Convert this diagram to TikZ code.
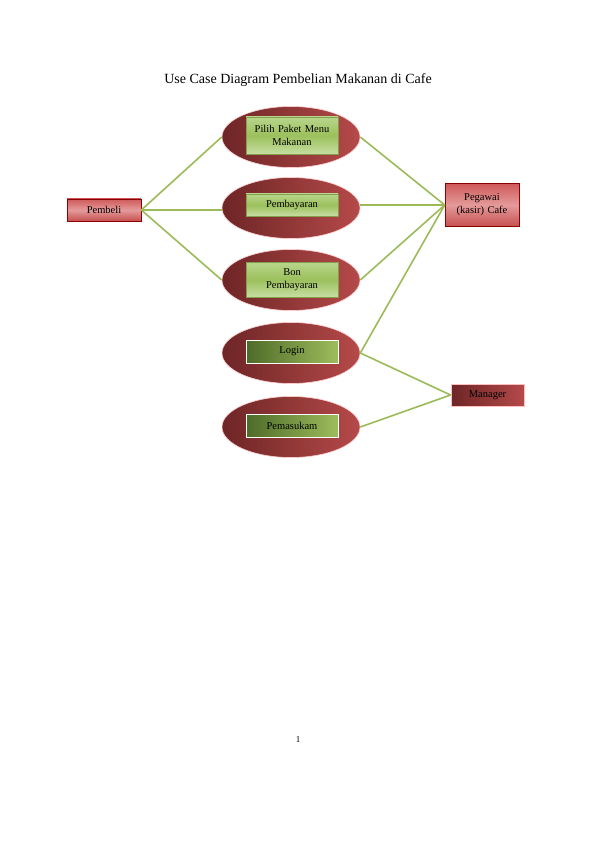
\documentclass[tikz,border=0pt]{standalone}
\usepackage{fontspec}
\setmainfont{Liberation Serif}
\usetikzlibrary{shapes.geometric}
\definecolor{ucdark}{HTML}{6E2526}
\definecolor{uclight}{HTML}{B54A49}
\definecolor{lgtop}{HTML}{B9D68C}
\definecolor{lgmid}{HTML}{9CC05C}
\definecolor{lgbot}{HTML}{C6DEA2}
\definecolor{dgdark}{HTML}{4E6A28}
\definecolor{dglight}{HTML}{9DBD5C}
\definecolor{rtop}{HTML}{CF5A5A}
\definecolor{rmid}{HTML}{E59A9A}
\definecolor{rbot}{HTML}{C65050}
\definecolor{linkgreen}{HTML}{9BBB59}
\begin{document}
\begin{tikzpicture}[x=1pt,y=-1pt,
  usecase/.style={ellipse,minimum width=138pt,minimum height=61pt,inner sep=0pt,
    left color=ucdark,right color=uclight,draw=white!80!red,line width=0.6pt},
  lightbox/.style={rectangle,minimum width=92pt,text width=88pt,align=center,inner sep=1pt,
    top color=lgtop,bottom color=lgbot,middle color=lgmid,draw=linkgreen!85!black,line width=0.8pt,
    font=\fontsize{10.5}{13}\selectfont},
  darkbox/.style={rectangle,minimum width=92pt,minimum height=23pt,text width=88pt,align=center,inner sep=1pt,
    left color=dgdark,right color=dglight,draw=white,line width=1pt,
    font=\fontsize{10.5}{13}\selectfont},
  actorred/.style={rectangle,minimum width=74pt,text width=70pt,align=center,inner sep=1pt,
    top color=rtop,bottom color=rbot,middle color=rmid,draw=red!55!black,line width=0.6pt,
    font=\fontsize{10.5}{13}\selectfont},
  actordark/.style={rectangle,minimum width=73pt,minimum height=22pt,text width=70pt,align=center,inner sep=1pt,
    left color=ucdark,right color=uclight,draw=white!75!red,line width=0.8pt,
    font=\fontsize{10.5}{13}\selectfont},
  link/.style={draw=linkgreen,line width=1.6pt}
]
\useasboundingbox (0,0) rectangle (595,842);
\node[font=\fontsize{14}{17}\selectfont] (title) at (298,80) {Use Case Diagram Pembelian Makanan di Cafe};

\node[usecase] (uc1) at (291,137) {};
\node[usecase] (uc2) at (291,208) {};
\node[usecase] (uc3) at (291,280) {};
\node[usecase] (uc4) at (291,353) {};
\node[usecase] (uc5) at (291,427) {};

\node[lightbox,minimum height=37pt] (b1) at (292,135.5) {Pilih Paket Menu\\Makanan};
\node[lightbox,minimum height=22pt] (b2) at (292,205) {Pembayaran};
\node[lightbox,minimum height=35pt] (b3) at (292,279.5) {Bon\\Pembayaran};
\node[darkbox] (b4) at (292,351.5) {Login};
\node[darkbox] (b5) at (292,425.5) {Pemasukam};

\node[actorred,minimum height=22pt] (pembeli) at (104,210) {Pembeli};
\node[actorred,minimum height=43pt] (pegawai) at (482,205) {Pegawai\\(kasir) Cafe};
\node[actordark] (manager) at (487.5,395) {Manager};

\draw[link] (pembeli.east) -- (uc1.west);
\draw[link] (pembeli.east) -- (pembeli.east -| uc2.west);
\draw[link] (pembeli.east) -- (uc3.west);
\draw[link] (uc1.east) -- (pegawai.west);
\draw[link] (uc2.east |- pegawai.west) -- (pegawai.west);
\draw[link] (uc3.east) -- (pegawai.west);
\draw[link] (uc4.east) -- (pegawai.west);
\draw[link] (uc4.east) -- (manager.west);
\draw[link] (uc5.east) -- (manager.west);

\node[font=\fontsize{9}{11}\selectfont] (pagenum) at (298,740) {1};
\end{tikzpicture}
\end{document}
